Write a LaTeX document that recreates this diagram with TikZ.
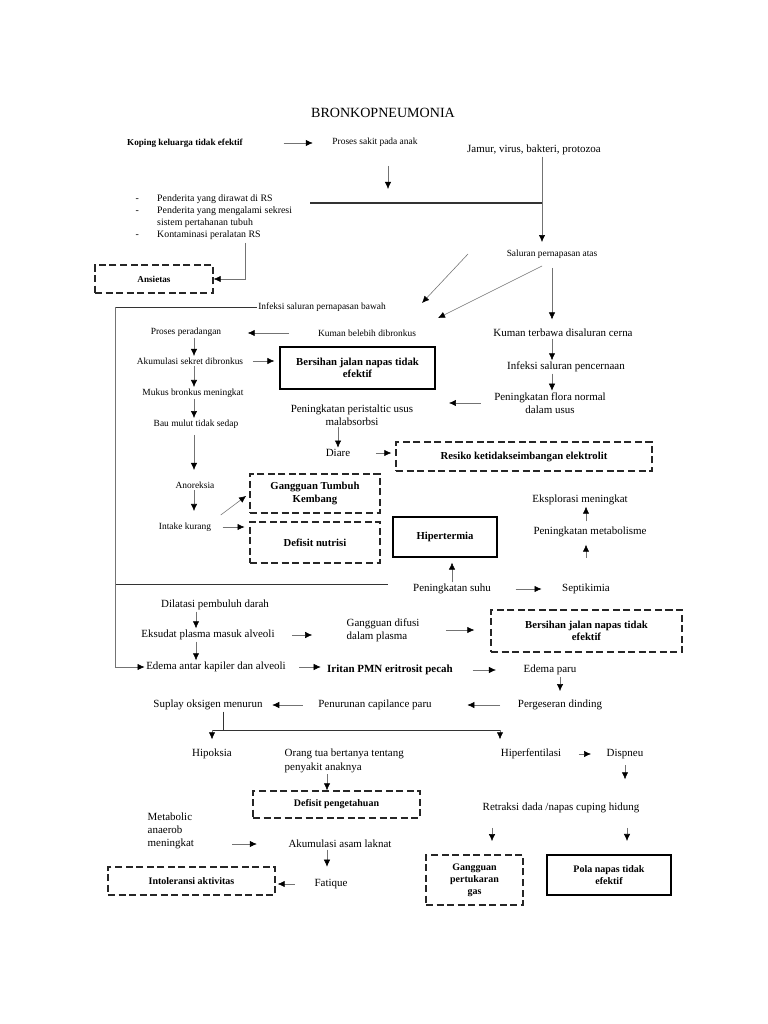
\documentclass[tikz,border=0pt]{standalone}
\usepackage{fontspec}
\setmainfont{Liberation Serif}
\usetikzlibrary{arrows.meta, positioning}

\begin{document}
\begin{tikzpicture}[
    x=0.025cm, y=-0.025cm,
    heading/.style={font={\fontsize{10}{12}\selectfont}},
    txt/.style={font={\fontsize{7.8}{9.5}\selectfont}, inner sep=1pt, align=center},
    sml/.style={font={\fontsize{6.7}{8}\selectfont}, inner sep=1pt, align=center},
    smlb/.style={font={\fontsize{6.5}{7.8}\selectfont\bfseries}, inner sep=1pt, align=center},
    boxb/.style={font={\fontsize{7.1}{8.6}\selectfont\bfseries}},
    solidbox/.style={rectangle, draw=black, line width=1.1pt, font={\fontsize{7.6}{9}\selectfont\bfseries}, align=center, inner sep=1pt},
    dashbox/.style={rectangle, draw=black!85, line width=0.9pt, dash pattern=on 5pt off 2.5pt, font={\fontsize{7.6}{9}\selectfont\bfseries}, align=center, inner sep=1pt},
    arrow/.style={draw=black!55, ->, >={Latex[length=5pt,width=4.5pt,black]}},
    link/.style={draw=black!80, line width=0.6pt}
]
\fill [white] (0,0) rectangle (768,1024);
\useasboundingbox (0,0) rectangle (768,1024);

\node (title) [heading] at (383,113) {BRONKOPNEUMONIA};

% bagian atas
\node (koping) [smlb] at (185,143) {Koping keluarga tidak efektif};
\node (proses) [sml] at (375,142) {Proses sakit pada anak};
\node (jamur) [txt] at (534,150) {Jamur, virus, bakteri, protozoa};
\node (faktor) [anchor=west, inner sep=1pt, font={\fontsize{7}{8.6}\selectfont}] at (134,217) {\begin{tabular}{@{}l@{\hspace{13pt}}l@{}}-&Penderita yang dirawat di RS\\-&Penderita yang mengalami sekresi\\&sistem pertahanan tubuh\\-&Kontaminasi peralatan RS\end{tabular}};
\node (ansietas) [dashbox, smlb, minimum width=2.95cm, minimum height=0.7cm] at (154,279) {Ansietas};
\node (saluratas) [sml] at (552,254) {Saluran pernapasan atas};

\coordinate (pdown) at (388,189);
\coordinate (jleft) at (310,203);
\coordinate (jright) at (542,203);
\coordinate (fdown) at (245,243);

\draw [arrow, shorten <=0.98cm, shorten >=0.45cm] (koping.east) -- (koping.east -| proses.west);
\draw [arrow, shorten <=0.45cm] (pdown |- proses.south) -- (pdown);
\draw [link, line width=0.9pt] (jleft) -- (jright);
\draw [arrow, shorten >=0.15cm] (jamur.south -| jright) -- (saluratas.north -| jright);
\draw [arrow] (fdown |- faktor.south) |- (ansietas.east);

% saluran pernapasan
\node (infbawah) [sml] at (322,307) {Infeksi saluran pernapasan bawah};
\node (kumanbronkus) [sml] at (367,333) {Kuman belebih dibronkus};
\node (kumancerna) [txt] at (563,333) {Kuman terbawa disaluran cerna};

\coordinate (sa1) at (468,254);
\coordinate (sa1e) at (422,303);
\coordinate (sa2) at (542,266);
\coordinate (sa2e) at (438,318);
\draw [arrow] (sa1) -- (sa1e);
\draw [arrow] (sa2) -- (sa2e);
\draw [arrow, shorten <=0.2cm, shorten >=0.2cm] (saluratas.south) -- (saluratas.south |- kumancerna.north);

% jalur kiri
\node (peradangan) [sml] at (186,332) {Proses peradangan};
\node (akumulasi) [sml] at (190,361) {Akumulasi sekret dibronkus};
\node (mukus) [sml] at (193,393) {Mukus bronkus meningkat};
\node (bau) [sml] at (196,424) {Bau mulut tidak sedap};
\node (anoreksia) [sml] at (195,485) {Anoreksia};
\node (intake) [sml] at (185,527) {Intake kurang};
\node (bersih1) [solidbox, minimum width=3.875cm, minimum height=1.05cm] at (357.5,368) {Bersihan jalan napas tidak\\efektif};
\node (tumbuh) [dashbox, minimum width=3.25cm, minimum height=0.975cm] at (315,493.5) {Gangguan Tumbuh\\Kembang};
\node (nutrisi) [dashbox, minimum width=3.25cm, minimum height=1.025cm] at (315,542.5) {Defisit nutrisi};

\coordinate (lcorner) at (115,307);
\coordinate (lsuhu) at (388,584);
\coordinate (lchain) at (194,0);

\draw [arrow, shorten <=0.68cm, shorten >=0.62cm] (kumanbronkus.west) -- (kumanbronkus.west -| peradangan.east);
\draw [arrow] (lchain |- peradangan.south) -- (lchain |- akumulasi.north);
\draw [arrow, shorten <=0.2cm, shorten >=0.12cm] (akumulasi.east) -- (akumulasi.east -| bersih1.west);
\draw [arrow] (lchain |- akumulasi.south) -- (lchain |- mukus.north);
\draw [arrow] (lchain |- mukus.south) -- (lchain |- bau.north);
\draw [arrow, shorten <=0.12cm, shorten >=0.25cm] (lchain |- bau.south) -- (lchain |- anoreksia.north);
\draw [arrow, shorten >=0.25cm] (lchain |- anoreksia.south) -- (lchain |- intake.north);
\draw [arrow, shorten <=0.25cm, shorten >=0.1cm] (intake.north east) -- (tumbuh.west);
\draw [arrow, shorten <=0.25cm, shorten >=0.12cm] (intake.east) -- (intake.east -| nutrisi.west);

% jalur kanan
\node (infcerna) [txt] at (566,367) {Infeksi saluran pencernaan};
\node (flora) [txt] at (550,403) {Peningkatan flora normal\\dalam usus};
\node (peristaltic) [txt] at (352,415) {Peningkatan peristaltic usus\\malabsorbsi};
\node (diare) [txt] at (338,453) {Diare};
\node (elektrolit) [dashbox, minimum width=6.4cm, minimum height=0.725cm] at (524,456.5) {Resiko ketidakseimbangan elektrolit};

\coordinate (rchain) at (552,0);

\draw [arrow] (rchain |- kumancerna.south) -- (rchain |- infcerna.north);
\draw [arrow] (rchain |- infcerna.south) -- (rchain |- flora.north);
\draw [arrow, shorten <=0.3cm, shorten >=0.85cm] (flora.west) -- (flora.west -| peristaltic.east);
\draw [arrow] (peristaltic.south -| diare) -- (diare.north);
\draw [arrow, shorten <=0.6cm, shorten >=0.1cm] (diare.east) -- (diare.east -| elektrolit.west);

% suhu dan metabolisme
\node (hiper) [solidbox, minimum width=2.6cm, minimum height=1cm] at (445,537) {Hipertermia};
\node (suhu) [txt] at (452,589) {Peningkatan suhu};
\node (septi) [txt] at (586,589) {Septikimia};
\node (metab) [txt] at (590,532) {Peningkatan metabolisme};
\node (eksplorasi) [txt] at (580,500) {Eksplorasi meningkat};

\draw [link] (lcorner |- lsuhu) -- (lsuhu);
\draw [arrow, shorten >=0.12cm] (suhu.north) -- (suhu.north |- hiper.south);
\draw [arrow, shorten <=0.575cm, shorten >=0.475cm] (suhu.east) -- (septi.west);
\draw [arrow, shorten <=0.62cm, shorten >=0.15cm] (septi.north) -- (septi.north |- metab.south);
\draw [arrow, shorten <=0.1cm] (septi.north |- metab.north) -- (septi.north |- eksplorasi.south);

% bagian bawah
\node (dilatasi) [txt] at (215,605) {Dilatasi pembuluh darah};
\node (eksudat) [txt] at (208,635) {Eksudat plasma masuk alveoli};
\node (edemakap) [txt] at (216,667) {Edema antar kapiler dan alveoli};
\node (difusi) [txt, anchor=west, align=left] at (345,630) {Gangguan difusi\\dalam plasma};
\node (bersih2) [dashbox, minimum width=4.775cm, minimum height=1.05cm] at (586.5,631) {Bersihan jalan napas tidak\\efektif};
\node (iritan) [txt, font={\fontsize{7.8}{9.5}\selectfont\bfseries}] at (390,670) {Iritan PMN eritrosit pecah};
\node (edemaparu) [txt] at (550,670) {Edema paru};
\node (pergeseran) [txt] at (560,705) {Pergeseran dinding};
\node (capilance) [txt] at (375,705) {Penurunan capilance paru};
\node (suplay) [txt] at (208,705) {Suplay oksigen menurun};

\coordinate (bchain) at (196,0);

\draw [link] (infbawah.west) -- (lcorner);
\draw [arrow] (lcorner) |- (edemakap.west);
\draw [arrow] (bchain |- dilatasi.south) -- (bchain |- eksudat.north);
\draw [arrow] (bchain |- eksudat.south) -- (bchain |- edemakap.north);
\draw [arrow, shorten <=0.4cm, shorten >=0.82cm] (eksudat.east) -- (eksudat.east -| difusi.west);
\draw [arrow, shorten <=0.62cm, shorten >=0.4cm] (difusi.east) -- (difusi.east -| bersih2.west);
\draw [arrow, shorten <=0.3cm, shorten >=0.12cm] (edemakap.east) -- (edemakap.east -| iritan.west);
\draw [arrow, shorten <=0.45cm, shorten >=0.65cm] (iritan.east) -- (edemaparu.west);
\draw [arrow, shorten >=0.18cm] (pergeseran.north |- edemaparu.south) -- (pergeseran.north);
\draw [arrow, shorten <=0.4cm, shorten >=0.85cm] (pergeseran.west) -- (capilance.east);
\draw [arrow, shorten <=0.35cm, shorten >=0.2cm] (capilance.west) -- (suplay.east);

\node (hipoksia) [txt] at (212,754) {Hipoksia};
\node (hiperfent) [txt] at (531,754) {Hiperfentilasi};
\node (dispneu) [txt] at (625,754) {Dispneu};
\node (retraksi) [txt] at (561,808) {Retraksi dada /napas cuping hidung};
\node (pertukaran) [dashbox, boxb, minimum width=2.425cm, minimum height=1.25cm] at (474.5,880) {Gangguan\\pertukaran\\gas};
\node (pola) [solidbox, boxb, minimum width=3.1cm, minimum height=1cm] at (609,875) {Pola napas tidak\\efektif};

\coordinate (sjoin) at (223,730);
\coordinate (sright) at (500,730);
\coordinate (rleft) at (492,0);
\coordinate (rright) at (627,0);

\draw [link] (sjoin |- suplay.south) -- (sjoin);
\draw [link] (hipoksia.north |- sjoin) -- (sright);
\draw [arrow, shorten >=0.2cm] (hipoksia.north |- sjoin) -- (hipoksia.north);
\draw [arrow, shorten >=0.2cm] (sright) -- (sright |- hiperfent.north);
\draw [arrow, shorten <=0.4cm, shorten >=0.35cm] (hiperfent.east) -- (dispneu.west);
\draw [arrow, shorten <=0.12cm, shorten >=0.55cm] (dispneu.south) -- (dispneu.south |- retraksi.north);
\draw [arrow, shorten <=0.33cm, shorten >=0.33cm] (rleft |- retraksi.south) -- (rleft |- pertukaran.north);
\draw [arrow, shorten <=0.33cm, shorten >=0.33cm] (rright |- retraksi.south) -- (rright |- pola.north);

\node (orangtua) [txt, anchor=west, align=left] at (283,761) {Orang tua bertanya tentang\\penyakit anaknya};
\node (pengetahuan) [dashbox, boxb, minimum width=4.175cm, minimum height=0.675cm] at (336.5,804.5) {Defisit pengetahuan};
\node (metabolic) [txt, anchor=west, align=left] at (146,831) {Metabolic\\anaerob\\meningkat};
\node (laknat) [txt] at (340,844) {Akumulasi asam laknat};
\node (fatique) [txt] at (331,884) {Fatique};
\node (intoleransi) [dashbox, boxb, minimum width=4.175cm, minimum height=0.7cm] at (191.5,881) {Intoleransi aktivitas};

\coordinate (ochain) at (327,0);

\draw [arrow] (ochain |- orangtua.south) -- (ochain |- pengetahuan.north);
\draw [arrow, shorten <=0.92cm, shorten >=0.75cm] (metabolic.east |- laknat.west) -- (laknat.west);
\draw [arrow, shorten >=0.27cm] (ochain |- laknat.south) -- (ochain |- fatique.north);
\draw [arrow, shorten <=0.45cm, shorten >=0.05cm] (fatique.west) -- (fatique.west -| intoleransi.east);

\end{tikzpicture}
\end{document}
